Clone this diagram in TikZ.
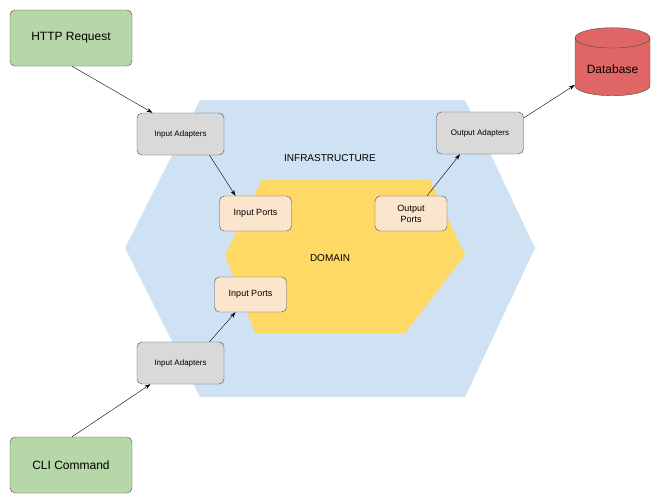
\documentclass[tikz,border=0pt]{standalone}
\usepackage{fontspec}
\setmainfont{Liberation Sans}
\usetikzlibrary{shapes.geometric,calc,arrows.meta}
\definecolor{infra}{HTML}{CFE2F3}
\definecolor{dom}{HTML}{FFD966}
\definecolor{gr}{HTML}{B6D7A8}
\definecolor{grey}{HTML}{D9D9D9}
\definecolor{port}{HTML}{FCE5CD}
\definecolor{db}{HTML}{E06666}
\begin{document}
\begin{tikzpicture}[x=1pt,y=-1pt,
 box/.style={draw=black!70,rounded corners=5pt,align=center,inner sep=0pt},
 big/.style={box,fill=gr,minimum width=122pt,minimum height=56pt,font=\fontsize{12}{14}\selectfont},
 adp/.style={box,fill=grey,minimum width=87pt,minimum height=42pt,font=\fontsize{8}{10}\selectfont},
 prt/.style={box,fill=port,minimum width=72pt,minimum height=35pt,font=\fontsize{9}{11}\selectfont},
 arr/.style={-{Stealth[length=6pt,width=4pt]},black}]
\useasboundingbox (0,0) rectangle (659,498);
\fill[infra] (125,248)--(200,100)--(465,100)--(535,248)--(465,397)--(200,397)--cycle;
\fill[dom] (225,255)--(262,180)--(430,180)--(465,255)--(405,333)--(255,333)--cycle;
\node (infl) at (330,158) {\fontsize{10}{12}\selectfont INFRASTRUCTURE};
\node (doml) at (330,258) {\fontsize{10}{12}\selectfont DOMAIN};
\node[big] (http) at (71,38) {HTTP Request};
\node[big] (cli) at (71,465) {CLI Command};
\node[adp] (ia1) at (180.5,134) {Input Adapters};
\node[adp] (ia2) at (180.5,363) {Input Adapters};
\node[adp] (oa) at (480,133) {Output Adapters};
\node[prt] (ip1) at (255.5,213.5) {Input Ports};
\node[prt] (ip2) at (250.5,294.5) {Input Ports};
\node[prt] (op) at (411,213.5) {Output\\Ports};
\node[cylinder,shape border rotate=90,draw=black!70,fill=db,minimum width=75pt,minimum height=68pt,aspect=0.35,font=\fontsize{12}{14}\selectfont] (db) at (612.5,69) {Database};
\draw[arr] ($(http.south)+(1,0)$) -- ($(ia1.north)+(-28,0)$);
\draw[arr] ($(ia1.south)+(29,0)$) -- ($(ip1.north)+(-20,0)$);
\draw[arr] ($(cli.north)+(1,0)$) -- ($(ia2.south)+(-30,0)$);
\draw[arr] ($(ia2.north)+(29,0)$) -- ($(ip2.south)+(-15,0)$);
\draw[arr] ($(op.north)+(16,0)$) -- ($(oa.south)+(-20,0)$);
\draw[arr] ($(oa.east)+(0,-15)$) -- ($(db.west)+(0,16)$);
\end{tikzpicture}
\end{document}
